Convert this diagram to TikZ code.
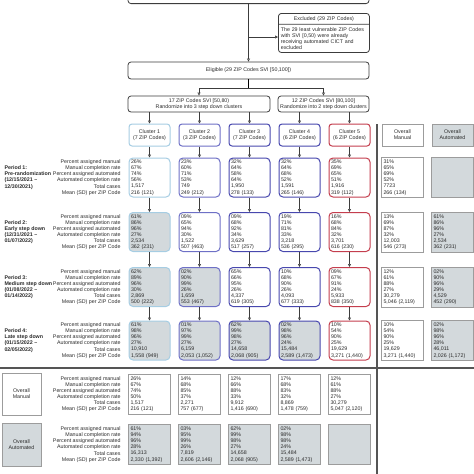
\documentclass[tikz,border=0pt]{standalone}
\usepackage{fontspec}
\setmainfont{Liberation Sans}
\usepackage{tikz}
\usetikzlibrary{arrows.meta,positioning,shapes.multipart}
\definecolor{zcInk}{HTML}{2B2B2B}
\definecolor{zcLine}{HTML}{3C3C3C}
\definecolor{zcRule}{HTML}{555555}
\definecolor{zcBox}{HTML}{9C9C9C}
\definecolor{zcFill}{HTML}{D3D9DC}
\definecolor{zcOne}{HTML}{A6CDE3}
\definecolor{zcTwo}{HTML}{6E70C6}
\definecolor{zcThree}{HTML}{4848AE}
\definecolor{zcFive}{HTML}{C43E4E}
\newcommand\zcrows{Percent assigned manual\\Manual completion rate\\Percent assigned automated\\Automated completion rate\\Total cases\\Mean (SD) per ZIP Code}

\begin{document}
\begin{tikzpicture}[
    x=1pt,y=-1pt,
    font=\fontsize{5.3}{6.1}\selectfont,text=zcInk,
    flow/.style={draw=zcLine,line width=0.8pt,fill=white,rounded corners=3pt,align=center,inner sep=1pt},
    hdr/.style={draw=#1,line width=1pt,fill=white,rounded corners=3pt,minimum width=41pt,
                minimum height=22pt,align=center,inner sep=1pt},
    cell/.style={draw=#1,line width=1pt,fill=white,rounded corners=4pt,minimum width=41pt,
                 minimum height=39pt,text width=37pt,align=left,inner xsep=2pt,inner ysep=1pt},
    ovcell/.style={draw=zcBox,line width=0.5pt,fill=white,minimum width=42pt,minimum height=40pt,
                   text width=38pt,align=left,inner xsep=2pt,inner ysep=1pt},
    ovhdr/.style={draw=zcBox,line width=0.5pt,fill=white,minimum width=41pt,minimum height=22pt,
                  align=center,inner sep=1pt},
    autofill/.style={fill=zcFill},
    rowlbl/.style={anchor=east,align=right},
    perlbl/.style={anchor=west,align=left,font=\fontsize{5.3}{6.1}\selectfont\bfseries},
    arr/.style={draw=zcLine,line width=0.6pt,-{Triangle[open,length=3pt,width=3pt]}},
    rule/.style={draw=zcRule,line width=1.2pt}
  ]
    \useasboundingbox (0,0) rectangle (474,474);
    \clip (0,0) rectangle (474,474);

    \node[flow,minimum width=241pt,minimum height=30pt,anchor=south] (screen) at (248.5,4) {};
    \node[flow,rectangle split,rectangle split parts=2,text width=86pt,align=left,
          inner xsep=2.5pt,inner ysep=2.6pt,anchor=north west] (excl) at (278,13)
          {\hbox to 86pt{\hfil Excluded (29 ZIP Codes)\hfil}\nodepart{two}The 29 least vulnerable ZIP Codes\\
           with SVI [0,50) were already\\receiving automated CICT and\\excluded};
    \node[flow,minimum width=241pt,minimum height=17pt] (elig) at (248.5,70.5) {Eligible (29 ZIP Codes SVI [50,100])};
    \node[flow,minimum width=142pt,minimum height=16pt] (grpA) at (199,104) {17 ZIP Codes SVI [50,80)\\Randomize into 3 step down clusters};
    \node[flow,minimum width=91pt,minimum height=16pt]  (grpB) at (323.5,104) {12 ZIP Codes SVI [80,100]\\Randomize into 2 step down clusters};
    \coordinate (fork) at (248.5,88);

    \draw[arr] (screen.south) -- (elig.north);
    \draw[arr] (screen.south |- 0,37) -- (excl.west |- 0,37);
    \draw (elig.south) -- (fork);
    \draw[arr] (fork) -| (grpA.north);
    \draw[arr] (fork) -| (grpB.north);

    \node[hdr=zcOne]   (c1h) at (149.5,135) {Cluster 1\\(7 ZIP Codes)};
    \node[hdr=zcTwo]   (c2h) at (199.5,135) {Cluster 2\\(3 ZIP Codes)};
    \node[hdr=zcThree] (c3h) at (249.5,135) {Cluster 3\\(7 ZIP Codes)};
    \node[hdr=zcThree] (c4h) at (299.5,135) {Cluster 4\\(6 ZIP Codes)};
    \node[hdr=zcFive]  (c5h) at (349.5,135) {Cluster 5\\(6 ZIP Codes)};
    \node[ovhdr]          (omh) at (402.5,135) {Overall\\Manual};
    \node[ovhdr,autofill] (oah) at (452.5,135) {Overall\\Automated};

    \draw[arr] (grpA.south -| c1h.north) -- (c1h.north);
    \draw[arr] (grpA.south -| c2h.north) -- (c2h.north);
    \draw[arr] (grpA.south -| c3h.north) -- (c3h.north);
    \draw[arr] (grpB.south -| c4h.north) -- (c4h.north);
    \draw[arr] (grpB.south -| c5h.north) -- (c5h.north);

    \node[perlbl] (per1) at (1,177.5) {Period 1:\\Pre-randomization\\(12/15/2021 --\\12/30/2021)};
    \node[rowlbl] (row1) at (124,177.5) {\zcrows};
    \node[cell=zcOne]   (c1p1) at (149.5,177.5) {26\%\\67\%\\74\%\\56\%\\1,517\\216 (121)};
    \node[cell=zcTwo]   (c2p1) at (199.5,177.5) {23\%\\60\%\\71\%\\53\%\\749\\249 (212)};
    \node[cell=zcThree] (c3p1) at (249.5,177.5) {32\%\\64\%\\58\%\\64\%\\1,950\\278 (133)};
    \node[cell=zcThree] (c4p1) at (299.5,177.5) {32\%\\64\%\\68\%\\52\%\\1,591\\265 (146)};
    \node[cell=zcFive]  (c5p1) at (349.5,177.5) {35\%\\69\%\\65\%\\51\%\\1,916\\319 (112)};
    \node[ovcell]          (om1) at (402.5,177.5) {31\%\\65\%\\69\%\\52\%\\7723\\266 (134)};
    \node[ovcell,autofill] (oa1) at (452.5,177.5) {};

    \node[perlbl] (per2) at (1,232) {Period 2:\\Early step down\\(12/31/2021 --\\01/07/2022)};
    \node[rowlbl] (row2) at (124,232) {\zcrows};
    \node[cell=zcOne,autofill] (c1p2) at (149.5,232) {61\%\\86\%\\96\%\\27\%\\2,534\\362 (231)};
    \node[cell=zcTwo]   (c2p2) at (199.5,232) {09\%\\65\%\\94\%\\30\%\\1,522\\507 (463)};
    \node[cell=zcThree] (c3p2) at (249.5,232) {09\%\\68\%\\92\%\\34\%\\3,629\\517 (257)};
    \node[cell=zcThree] (c4p2) at (299.5,232) {19\%\\71\%\\81\%\\33\%\\3,218\\536 (295)};
    \node[cell=zcFive]  (c5p2) at (349.5,232) {16\%\\68\%\\84\%\\32\%\\3,701\\616 (230)};
    \node[ovcell]          (om2) at (402.5,232) {13\%\\69\%\\87\%\\32\%\\12,003\\546 (273)};
    \node[ovcell,autofill] (oa2) at (452.5,232) {61\%\\86\%\\96\%\\27\%\\2,534\\362 (231)};

    \node[perlbl] (per3) at (1,287) {Period 3:\\Medium step down\\(01/08/2022 --\\01/14/2022)};
    \node[rowlbl] (row3) at (124,287) {\zcrows};
    \node[cell=zcOne,autofill] (c1p3) at (149.5,287) {62\%\\89\%\\96\%\\30\%\\2,869\\500 (222)};
    \node[cell=zcTwo,autofill] (c2p3) at (199.5,287) {02\%\\90\%\\99\%\\26\%\\1,659\\553 (467)};
    \node[cell=zcThree] (c3p3) at (249.5,287) {65\%\\66\%\\95\%\\26\%\\4,337\\619 (305)};
    \node[cell=zcThree] (c4p3) at (299.5,287) {10\%\\68\%\\90\%\\26\%\\4,093\\677 (333)};
    \node[cell=zcFive]  (c5p3) at (349.5,287) {09\%\\67\%\\91\%\\24\%\\5,933\\838 (350)};
    \node[ovcell]          (om3) at (402.5,287) {12\%\\61\%\\88\%\\27\%\\30,279\\5,046 (2,119)};
    \node[ovcell,autofill] (oa3) at (452.5,287) {02\%\\90\%\\96\%\\29\%\\4,529\\452 (290)};

    \node[perlbl] (per4) at (1,340.5) {Period 4:\\Late step down\\(01/15/2022 --\\02/05/2022)};
    \node[rowlbl] (row4) at (124,340.5) {\zcrows};
    \node[cell=zcOne,autofill]   (c1p4) at (149.5,340.5) {61\%\\98\%\\96\%\\27\%\\10,910\\1,558 (949)};
    \node[cell=zcTwo,autofill]   (c2p4) at (199.5,340.5) {01\%\\97\%\\99\%\\27\%\\6,159\\2,053 (1,052)};
    \node[cell=zcThree,autofill] (c3p4) at (249.5,340.5) {62\%\\99\%\\98\%\\27\%\\14,658\\2,068 (905)};
    \node[cell=zcThree,autofill] (c4p4) at (299.5,340.5) {02\%\\98\%\\96\%\\24\%\\15,484\\2,589 (1,473)};
    \node[cell=zcFive]  (c5p4) at (349.5,340.5) {10\%\\54\%\\90\%\\25\%\\19,629\\3,271 (1,440)};
    \node[ovcell]          (om4) at (402.5,340.5) {10\%\\54\%\\90\%\\25\%\\19,629\\3,271 (1,440)};
    \node[ovcell,autofill] (oa4) at (452.5,340.5) {02\%\\98\%\\96\%\\28\%\\46,011\\2,026 (1,172)};

    \draw[arr] (c1h) -- (c1p1); \draw[arr] (c1p1) -- (c1p2); \draw[arr] (c1p2) -- (c1p3); \draw[arr] (c1p3) -- (c1p4);
    \draw[arr] (c2h) -- (c2p1); \draw[arr] (c2p1) -- (c2p2); \draw[arr] (c2p2) -- (c2p3); \draw[arr] (c2p3) -- (c2p4);
    \draw[arr] (c3h) -- (c3p1); \draw[arr] (c3p1) -- (c3p2); \draw[arr] (c3p2) -- (c3p3); \draw[arr] (c3p3) -- (c3p4);
    \draw[arr] (c4h) -- (c4p1); \draw[arr] (c4p1) -- (c4p2); \draw[arr] (c4p2) -- (c4p3); \draw[arr] (c4p3) -- (c4p4);
    \draw[arr] (c5h) -- (c5p1); \draw[arr] (c5p1) -- (c5p2); \draw[arr] (c5p2) -- (c5p3); \draw[arr] (c5p3) -- (c5p4);

    \draw[rule] (0,368) -- (474,368);
    \draw[rule] (377,124) -- (377,474);

    \node[ovhdr,minimum width=39pt,minimum height=42pt] (mlbl) at (21.5,394) {Overall\\Manual};
    \node[rowlbl] (mrow) at (124,394) {\zcrows};
    \node[ovcell] (mo1) at (149.5,394) {26\%\\67\%\\74\%\\50\%\\1,517\\216 (121)};
    \node[ovcell] (mo2) at (199.5,394) {14\%\\68\%\\85\%\\37\%\\2,271\\757 (677)};
    \node[ovcell] (mo3) at (249.5,394) {12\%\\66\%\\88\%\\33\%\\9,912\\1,416 (690)};
    \node[ovcell] (mo4) at (299.5,394) {17\%\\68\%\\83\%\\32\%\\8,869\\1,478 (759)};
    \node[ovcell] (mo5) at (349.5,394) {12\%\\61\%\\88\%\\27\%\\30,279\\5,047 (2,120)};

    \node[ovhdr,autofill,minimum width=39pt,minimum height=43pt] (albl) at (21.5,444.5) {Overall\\Automated};
    \node[rowlbl] (arow) at (124,444.5) {\zcrows};
    \node[ovcell,autofill] (ao1) at (149.5,444.5) {61\%\\94\%\\96\%\\28\%\\16,313\\2,330 (1,392)};
    \node[ovcell,autofill] (ao2) at (199.5,444.5) {03\%\\95\%\\99\%\\26\%\\7,819\\2,606 (2,146)};
    \node[ovcell,autofill] (ao3) at (249.5,444.5) {62\%\\99\%\\98\%\\27\%\\14,658\\2,068 (905)};
    \node[ovcell,autofill] (ao4) at (299.5,444.5) {02\%\\98\%\\98\%\\24\%\\15,484\\2,589 (1,473)};
    \node[ovcell,autofill] (ao5) at (349.5,444.5) {};
  \end{tikzpicture}
\end{document}
